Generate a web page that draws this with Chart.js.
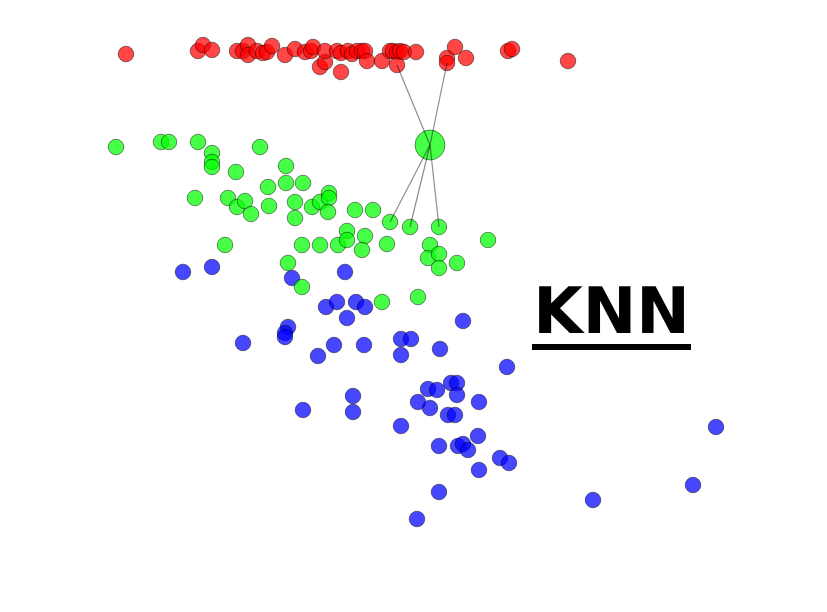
<!DOCTYPE html>
<html>
<head>
<meta charset="utf-8">
<script src="https://cdn.jsdelivr.net/npm/chart.js@4/dist/chart.umd.min.js"></script>
<style>
  html, body { margin: 0; padding: 0; background: #fff; overflow: hidden; }
  #wrap { position: relative; width: 827px; height: 612px; }
  #title {
    position: absolute; left: 532px; top: 278px; width: 159px;
    font-family: "DejaVu Sans", sans-serif; font-weight: bold; font-size: 64px;
    line-height: 66px; text-align: center; color: #000;
    border-bottom: 6px solid #000;
  }
</style>
</head>
<body>
<div id="wrap">
  <canvas id="knnChart" width="827" height="612"></canvas>
  <div id="title">KNN</div>
</div>
<script>
// Scatter - KNN classes (coordinates in plot units)

const redPoints = [
    [126, 54], [198, 51], [203, 45], [212, 50], [237, 51], [243, 51], [248, 45],
    [248, 55], [257, 51], [263, 53], [267, 52], [272, 46], [285, 55], [295, 49],
    [305, 52], [311, 51], [313, 47], [320, 67], [325, 62], [325, 51], [337, 51],
    [341, 53], [341, 72], [348, 51], [352, 54], [357, 51], [362, 51], [365, 51],
    [367, 61], [382, 61], [390, 51], [393, 51], [397, 52], [397, 65], [400, 51],
    [404, 52], [416, 52], [447, 58], [447, 63], [455, 47], [466, 58], [508, 51],
    [512, 49], [568, 61]
];

const greenPoints = [
    [116, 147], [161, 142], [169, 142], [198, 142], [212, 153], [212, 162],
    [212, 167], [260, 147], [236, 172], [286, 166], [268, 187], [286, 183],
    [303, 183], [195, 198], [228, 198], [237, 207], [245, 201], [251, 214],
    [269, 206], [295, 202], [295, 218], [312, 207], [320, 202], [329, 193],
    [329, 198], [328, 212], [355, 210], [373, 210], [390, 222], [410, 227],
    [439, 227], [225, 245], [302, 245], [320, 245], [338, 245], [347, 231],
    [347, 240], [365, 236], [362, 250], [387, 244], [430, 245], [428, 258],
    [439, 254], [439, 268], [457, 263], [488, 240], [288, 263], [302, 287],
    [382, 302], [418, 297]
];

const bluePoints = [
    [183, 272], [212, 267], [292, 278], [345, 272], [326, 307], [337, 302],
    [356, 302], [365, 307], [347, 318], [463, 321], [288, 327], [285, 333],
    [285, 337], [243, 343], [334, 345], [318, 356], [364, 345], [401, 339],
    [411, 339], [401, 355], [440, 349], [507, 367], [428, 389], [437, 390],
    [451, 383], [457, 383], [457, 395], [418, 402], [430, 408], [448, 415],
    [455, 415], [479, 402], [353, 396], [353, 412], [303, 410], [401, 426],
    [478, 436], [439, 446], [458, 446], [463, 444], [468, 450], [500, 458],
    [509, 463], [479, 470], [439, 492], [417, 519], [716, 427], [693, 485],
    [593, 500]
];

const queryPoint = [430, 145];
const neighbors = [[397, 65], [447, 63], [390, 222], [410, 227], [439, 227]];

const toXY = p => ({ x: p[0], y: p[1] });

const neighborLines = neighbors.map(n => ({
    type: "line",
    data: [toXY(queryPoint), toXY(n)],
    borderColor: "rgba(0,0,0,0.45)",
    borderWidth: 1.2,
    pointRadius: 0,
    showLine: true,
    order: 0
}));

const pointStyle = (data, color) => ({
    data: data.map(toXY),
    backgroundColor: color,
    borderColor: "rgba(0,0,0,0.45)",
    borderWidth: 1,
    pointRadius: 7.8,
    pointHoverRadius: 7.8,
    order: 1
});

const ctx = document.getElementById("knnChart");

new Chart(ctx, {
    type: "scatter",
    data: {
        datasets: [
            pointStyle(redPoints, "rgba(255,0,0,0.72)"),
            pointStyle(greenPoints, "rgba(0,255,0,0.72)"),
            pointStyle(bluePoints, "rgba(0,0,255,0.72)"),
            Object.assign(pointStyle([queryPoint], "rgba(0,255,0,0.72)"), { pointRadius: 15, pointHoverRadius: 15 }),
            ...neighborLines
        ]
    },
    options: {
        responsive: false,
        animation: false,
        layout: { padding: 0, autoPadding: false },
        plugins: { legend: { display: false }, tooltip: { enabled: false } },
        scales: {
            x: { type: "linear", min: 0, max: 827, display: false },
            y: { type: "linear", min: 0, max: 612, reverse: true, display: false }
        }
    }
});
</script>
</body>
</html>
